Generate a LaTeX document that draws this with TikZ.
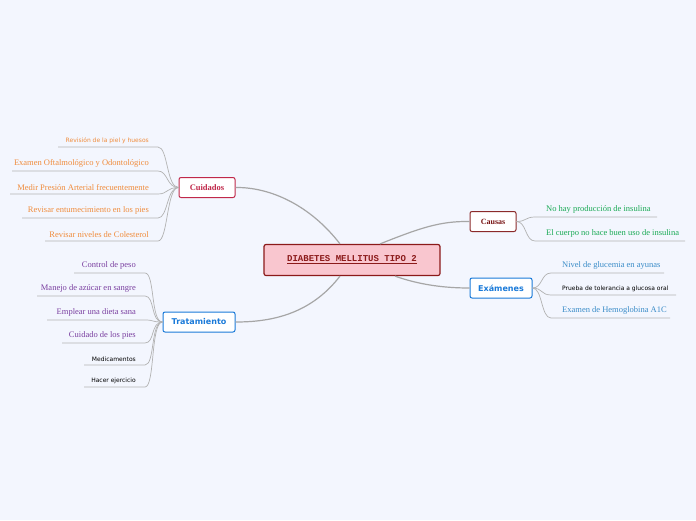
\documentclass[tikz,border=0pt]{standalone}
\usepackage{fontspec}
\setmainfont{Liberation Serif}
\setsansfont{DejaVu Sans}
\setmonofont{Liberation Mono}
\begin{document}
\begin{tikzpicture}[x=1pt,y=-1pt,
 conn/.style={draw=black!30,line width=0.7pt},
 mainc/.style={draw=black!35,line width=1.2pt},
 topic/.style={rounded corners=2pt,line width=1pt,fill=white,inner sep=0pt,minimum height=20pt},
 lleaf/.style={anchor=south east,inner sep=1pt,font=\fontsize{8.5}{9}\selectfont},
 rleaf/.style={anchor=south west,inner sep=1pt,font=\fontsize{8.5}{9}\selectfont}]
\definecolor{bg}{HTML}{F3F6FE}
\definecolor{orn}{HTML}{F08C3C}
\definecolor{pur}{HTML}{7A3FA0}
\definecolor{grn}{HTML}{1AAA55}
\definecolor{blu}{HTML}{3A8CC8}
\fill[bg] (0,0) rectangle (696,520);
\useasboundingbox (0,0) rectangle (696,520);
% central
\node[draw={rgb,255:red,139;green,26;blue,26},fill={rgb,255:red,249;green,198;blue,207},rounded corners=2pt,line width=1.2pt,minimum width=176pt,minimum height=31pt,text={rgb,255:red,139;green,26;blue,26},font=\ttfamily\bfseries\fontsize{9}{10}\selectfont] (c) at (352,260) {\underline{DIABETES MELLITUS TIPO 2}};
\node[topic,draw={rgb,255:red,192;green,40;blue,74},minimum width=56pt,text={rgb,255:red,192;green,40;blue,74},font=\bfseries\fontsize{8.5}{9}\selectfont] (cu) at (207,187.5) {Cuidados};
\node[topic,draw={rgb,255:red,26;green,122;blue,217},minimum width=72pt,text={rgb,255:red,26;green,122;blue,217},font=\sffamily\bfseries\fontsize{8}{9}\selectfont] (tr) at (199,322) {Tratamiento};
\node[topic,draw={rgb,255:red,139;green,42;blue,42},minimum width=46pt,text={rgb,255:red,120;green,20;blue,20},font=\bfseries\fontsize{8}{9}\selectfont] (ca) at (493,221.5) {Causas};
\node[topic,draw={rgb,255:red,26;green,122;blue,217},minimum width=62pt,text={rgb,255:red,26;green,122;blue,217},font=\sffamily\bfseries\fontsize{8}{9}\selectfont] (ex) at (501,288) {Exámenes};
% main connectors
\draw[mainc] ([xshift=-12pt]c.north) .. controls (310,205) and (270,187) .. (cu.east);
\draw[mainc] ([xshift=-12pt]c.south) .. controls (310,315) and (270,322) .. (tr.east);
\draw[mainc] ([xshift=28pt]c.north) .. controls (420,228) and (440,221) .. (ca.west);
\draw[mainc] ([xshift=43pt]c.south) .. controls (420,285) and (445,288) .. (ex.west);
% left leaves
\foreach \n/\t/\s/\y/\xs/\xe/\p in {
 a1/{\sffamily\fontsize{6}{7}\selectfont Revisión de la piel y huesos}/orn/147/58/158/cu,
 a2/{Examen Oftalmológico y Odontológico}/orn/171/12/158/cu,
 a3/{Medir Presión Arterial frecuentemente}/orn/194/10/158/cu,
 a4/{Revisar entumecimiento en los pies}/orn/218/22/158/cu,
 a5/{Revisar niveles de Colesterol}/orn/241/45/158/cu,
 b1/{Control de peso}/pur/273/74/145/tr,
 b2/{Manejo de azúcar en sangre}/pur/296/37/145/tr,
 b3/{Emplear una dieta sana}/pur/320/47/145/tr,
 b4/{Cuidado de los pies}/pur/343/62/145/tr,
 b5/{\sffamily\fontsize{6}{7}\selectfont Medicamentos}/black/365/84/145/tr,
 b6/{\sffamily\fontsize{6}{7}\selectfont Hacer ejercicio}/black/387/84/145/tr}{
 \coordinate (\n e) at (\xe,\y);
 \node[lleaf,text=\s] (\n) at (\xe-8,\y-2) {\t};
 \draw[conn] (\xs,\y) -- (\n e) .. controls ([xshift=10pt]\n e) and ([xshift=-12pt]\p.west) .. (\p.west);
}
% right leaves
\foreach \n/\t/\s/\y/\xs/\xe/\p in {
 c1/{No hay producción de insulina}/grn/217/535/657/ca,
 c2/{El cuerpo no hace buen uso de insulina}/grn/241/535/685/ca,
 d1/{Nivel de glucemia en ayunas}/blu/273/551/664/ex,
 d2/{\sffamily\fontsize{6}{7}\selectfont Prueba de tolerancia a glucosa oral}/black/295/551/676/ex,
 d3/{Examen de Hemoglobina A1C}/blu/318/551/670/ex}{
 \coordinate (\n s) at (\xs,\y);
 \node[rleaf,text=\s] (\n) at (\xs+10,\y-2) {\t};
 \draw[conn] (\p.east) .. controls ([xshift=10pt]\p.east) and ([xshift=-10pt]\n s) .. (\n s) -- (\xe,\y);
}
\end{tikzpicture}
\end{document}
